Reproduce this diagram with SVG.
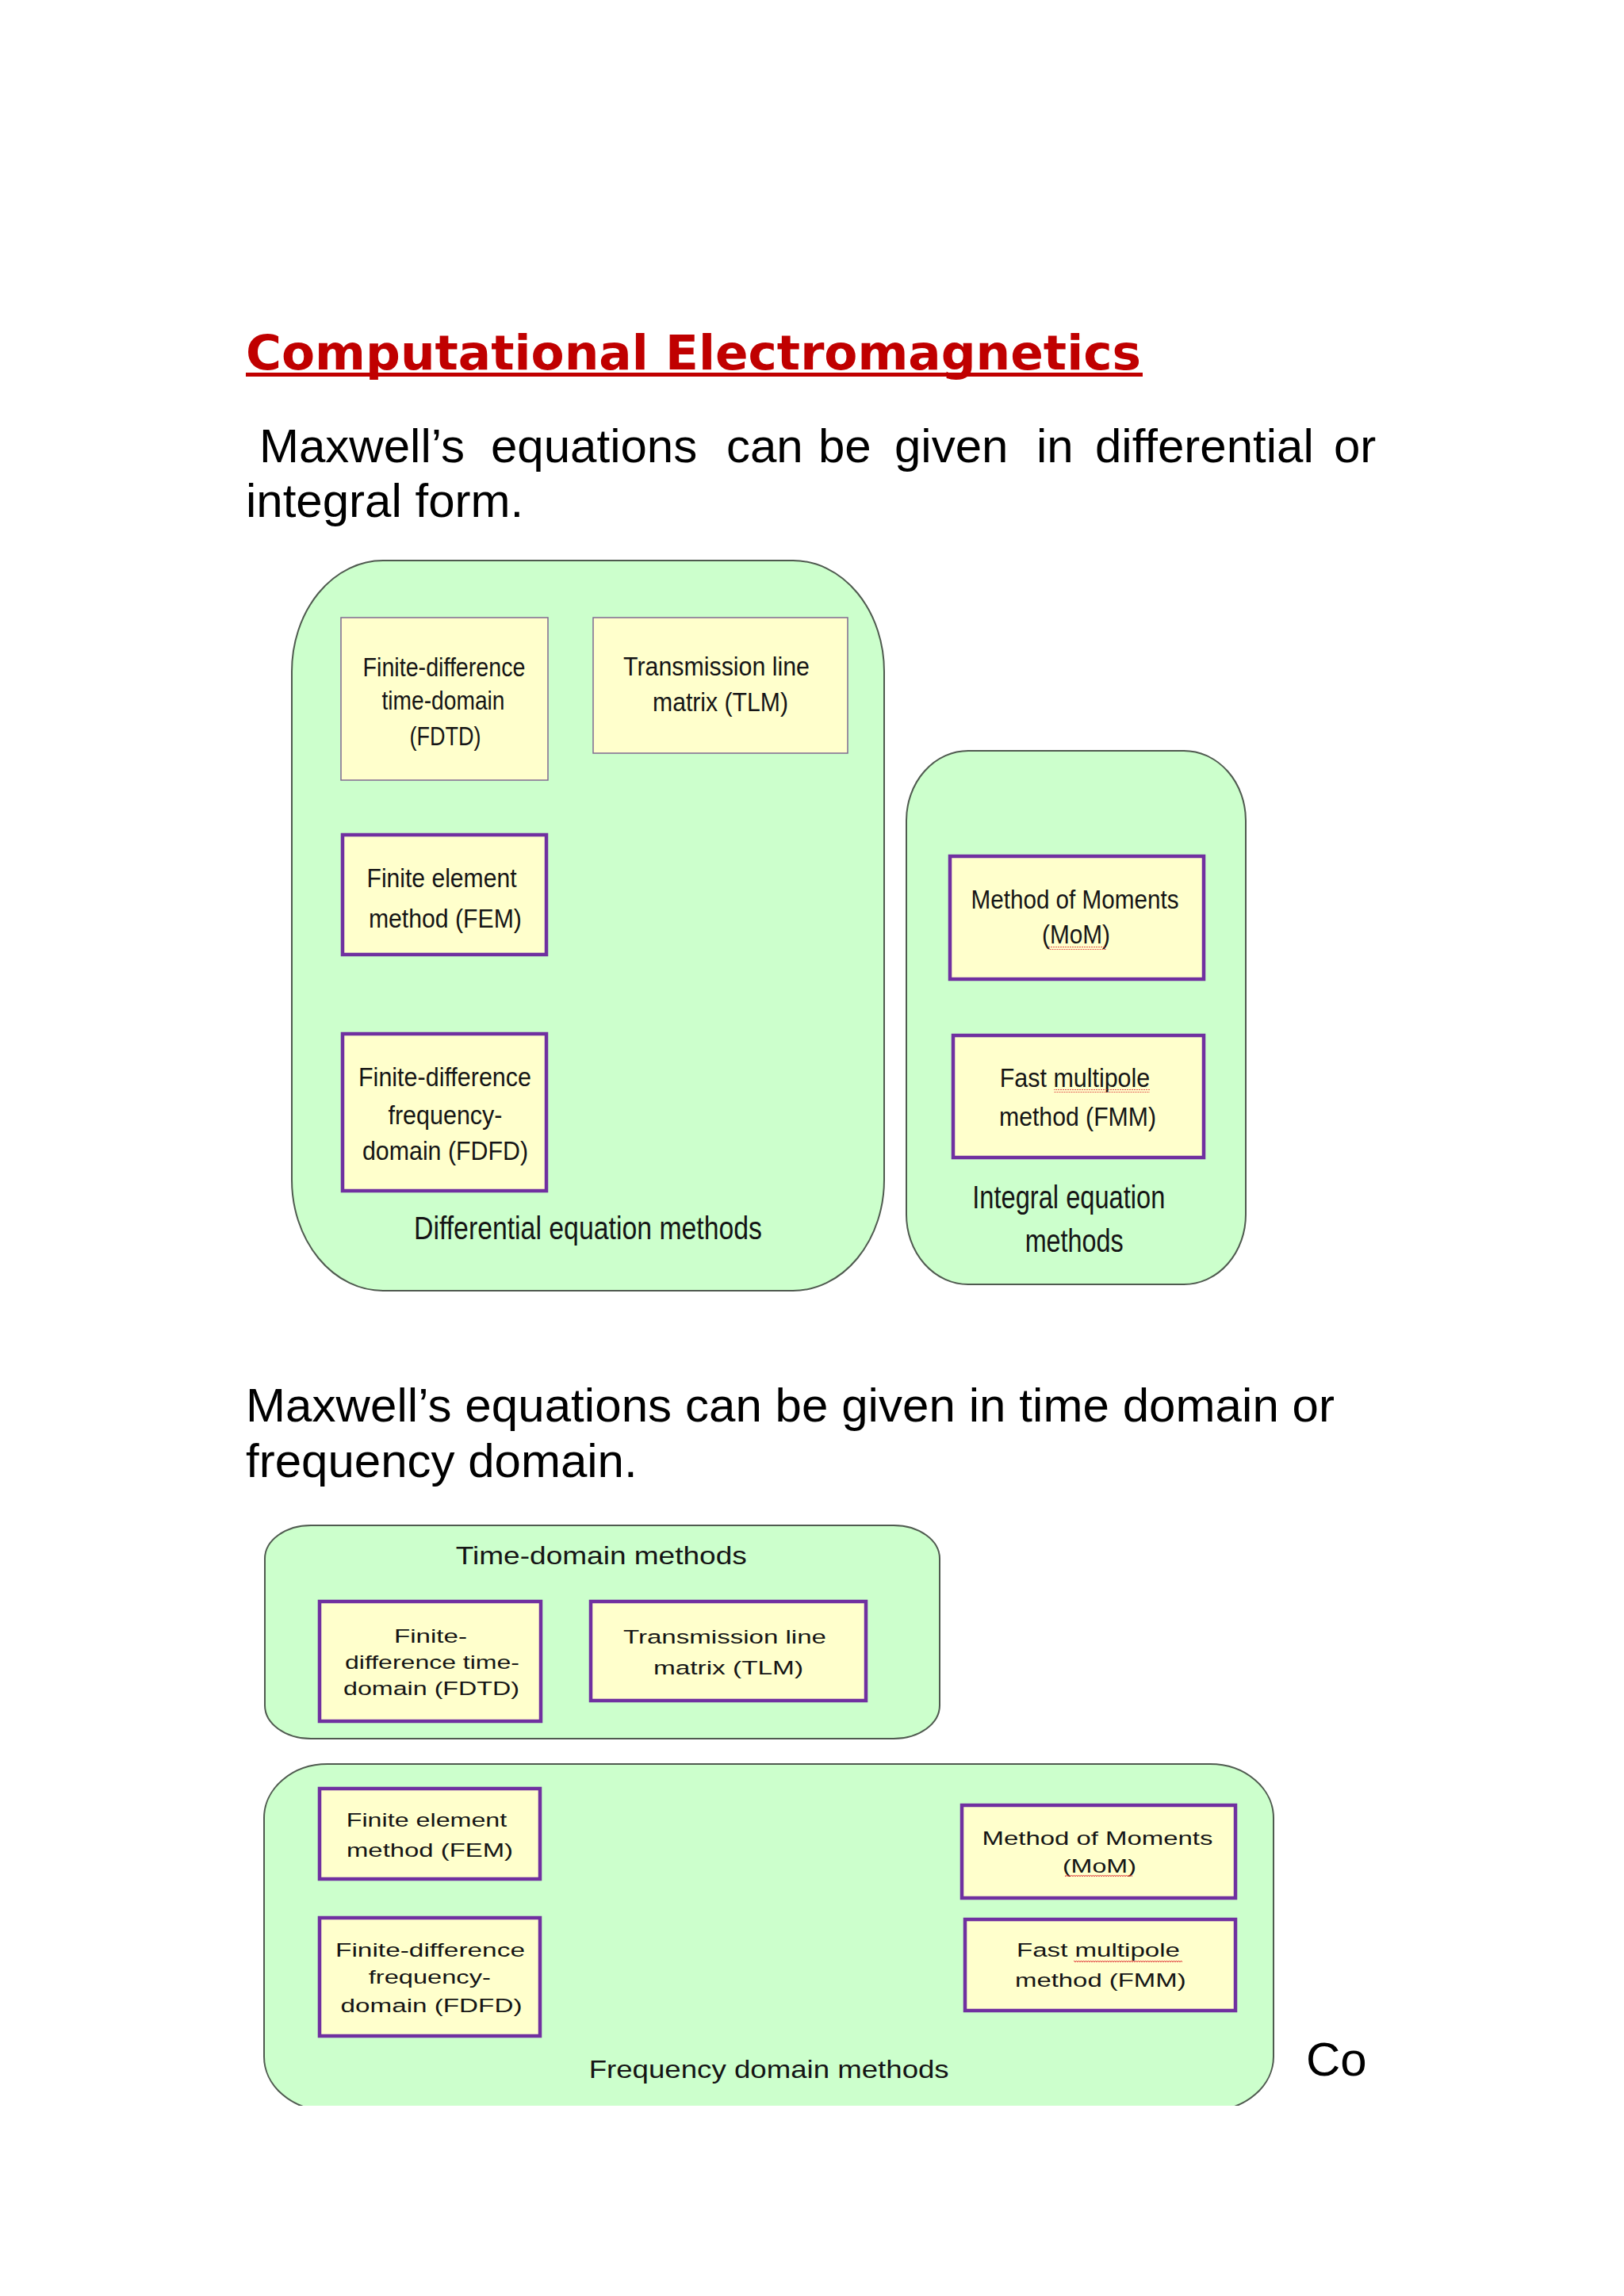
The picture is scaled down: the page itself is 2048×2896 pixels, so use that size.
<svg xmlns="http://www.w3.org/2000/svg" width="2048" height="2896" viewBox="0 0 2048 2896">
<style>
.body{font-family:"Liberation Sans",Arial,sans-serif;font-size:60px;fill:#000}
.title{font-family:"DejaVu Sans",Verdana,sans-serif;font-weight:bold;font-size:60px;fill:#c00000}
.cont{fill:#ccffcc;stroke:#4f5a4f;stroke-width:2}
.thin{fill:#ffffcc;stroke:#806a90;stroke-width:1.5}
.thick{fill:#ffffcc;stroke:#7030a0;stroke-width:4.5}
.t1{font-family:"Liberation Sans",Arial,sans-serif;font-size:34px;fill:#151515;text-anchor:middle}
.t2{font-family:"Liberation Sans",Arial,sans-serif;font-size:24.5px;fill:#151515;text-anchor:middle}
.lbl1{font-family:"Liberation Sans",Arial,sans-serif;font-size:40px;fill:#151515;text-anchor:middle}
.lbl2{font-family:"Liberation Sans",Arial,sans-serif;font-size:32px;fill:#151515;text-anchor:middle}
</style>
<defs>
<pattern id="sq" width="6" height="4" patternUnits="userSpaceOnUse">
<path d="M0,3 L1.5,1 L3,3 L4.5,1 L6,3" fill="none" stroke="#e03a3a" stroke-width="1"/>
</pattern>
<clipPath id="clipFreq"><rect x="300" y="2200" width="1400" height="456"/></clipPath>
</defs>
<rect width="2048" height="2896" fill="#ffffff"/>

<g id="title">
<text class="title" x="310" y="466" textLength="1129" lengthAdjust="spacingAndGlyphs">Computational Electromagnetics</text>
<rect x="310" y="470" width="1131" height="5" fill="#c00000"/>
</g>

<g id="para1" class="body">
<text x="327" y="583">Maxwell’s</text>
<text x="619" y="583">equations</text>
<text x="916" y="583">can</text>
<text x="1032" y="583">be</text>
<text x="1128" y="583">given</text>
<text x="1307" y="583">in</text>
<text x="1381" y="583">differential</text>
<text x="1682" y="583">or</text>
<text x="310" y="652">integral form.</text>
</g>

<g id="differential-methods">
<rect class="cont" x="368" y="707" width="747" height="921" rx="115" ry="140"/>
<text class="lbl1" x="741.5" y="1563" textLength="439" lengthAdjust="spacingAndGlyphs">Differential equation methods</text>
</g>
<g id="d1-fdtd">
<rect class="thin" x="430" y="779" width="261" height="205"/>
<text class="t1" x="560" y="853" textLength="205" lengthAdjust="spacingAndGlyphs">Finite-difference</text>
<text class="t1" x="559" y="895" textLength="155" lengthAdjust="spacingAndGlyphs">time-domain</text>
<text class="t1" x="561.5" y="940" textLength="90" lengthAdjust="spacingAndGlyphs">(FDTD)</text>
</g>
<g id="d1-tlm">
<rect class="thin" x="748" y="779" width="321" height="171"/>
<text class="t1" x="903.5" y="852" textLength="235" lengthAdjust="spacingAndGlyphs">Transmission line</text>
<text class="t1" x="908.5" y="897" textLength="171" lengthAdjust="spacingAndGlyphs">matrix (TLM)</text>
</g>
<g id="d1-fem">
<rect class="thick" x="432" y="1053" width="257" height="151"/>
<text class="t1" x="557" y="1119" textLength="189" lengthAdjust="spacingAndGlyphs">Finite element</text>
<text class="t1" x="561.4" y="1170" textLength="193" lengthAdjust="spacingAndGlyphs">method (FEM)</text>
</g>
<g id="d1-fdfd">
<rect class="thick" x="432" y="1304" width="257" height="198"/>
<text class="t1" x="561" y="1370" textLength="218" lengthAdjust="spacingAndGlyphs">Finite-difference</text>
<text class="t1" x="561.5" y="1418" textLength="144" lengthAdjust="spacingAndGlyphs">frequency-</text>
<text class="t1" x="561.5" y="1463" textLength="209" lengthAdjust="spacingAndGlyphs">domain (FDFD)</text>
</g>

<g id="integral-methods">
<rect class="cont" x="1143" y="947" width="428" height="673" rx="78" ry="88"/>
<text class="lbl1" x="1347.8" y="1524" font-size="38" textLength="243" lengthAdjust="spacingAndGlyphs">Integral equation</text>
<text class="lbl1" x="1354.7" y="1579" font-size="38" textLength="124" lengthAdjust="spacingAndGlyphs">methods</text>
</g>
<g id="d1-mom">
<rect class="thick" x="1198" y="1080" width="320" height="155"/>
<text class="t1" x="1355.5" y="1146" textLength="262" lengthAdjust="spacingAndGlyphs">Method of Moments</text>
<text class="t1" x="1357" y="1190" textLength="86" lengthAdjust="spacingAndGlyphs">(MoM)</text>
<rect x="1322" y="1194" width="73" height="4" fill="url(#sq)"/>
</g>
<g id="d1-fmm">
<rect class="thick" x="1202" y="1306" width="316" height="154"/>
<text class="t1" x="1355.5" y="1371" textLength="189.5" lengthAdjust="spacingAndGlyphs">Fast multipole</text>
<text class="t1" x="1359" y="1420" textLength="198" lengthAdjust="spacingAndGlyphs">method (FMM)</text>
<rect x="1329" y="1374" width="121" height="4" fill="url(#sq)"/>
</g>

<g id="para2" class="body">
<text x="310" y="1793" textLength="1373" lengthAdjust="spacing">Maxwell’s equations can be given in time domain or</text>
<text x="310" y="1863">frequency domain.</text>
</g>

<g id="time-domain-methods">
<rect class="cont" x="334" y="1924" width="851" height="269" rx="58" ry="42"/>
<text class="lbl2" x="758.3" y="1973" textLength="367" lengthAdjust="spacingAndGlyphs">Time-domain methods</text>
</g>
<g id="d2-fdtd">
<rect class="thick" x="403" y="2020" width="279" height="151"/>
<text class="t2" x="543" y="2072" textLength="92" lengthAdjust="spacingAndGlyphs">Finite-</text>
<text class="t2" x="545" y="2105" textLength="220" lengthAdjust="spacingAndGlyphs">difference time-</text>
<text class="t2" x="544" y="2138" textLength="222" lengthAdjust="spacingAndGlyphs">domain (FDTD)</text>
</g>
<g id="d2-tlm">
<rect class="thick" x="745" y="2020" width="347" height="125"/>
<text class="t2" x="914" y="2073" textLength="256" lengthAdjust="spacingAndGlyphs">Transmission line</text>
<text class="t2" x="918.5" y="2112" textLength="189" lengthAdjust="spacingAndGlyphs">matrix (TLM)</text>
</g>

<g id="frequency-domain-methods">
<rect class="cont" x="333" y="2225" width="1273" height="437" rx="80" ry="68" clip-path="url(#clipFreq)"/>
<text class="lbl2" x="969.7" y="2621" font-size="33" textLength="454" lengthAdjust="spacingAndGlyphs">Frequency domain methods</text>
</g>
<g id="d2-fem">
<rect class="thick" x="403" y="2256" width="278" height="114"/>
<text class="t2" x="538" y="2304" textLength="202.5" lengthAdjust="spacingAndGlyphs">Finite element</text>
<text class="t2" x="542" y="2342" textLength="210" lengthAdjust="spacingAndGlyphs">method (FEM)</text>
</g>
<g id="d2-fdfd">
<rect class="thick" x="403" y="2419" width="278" height="149"/>
<text class="t2" x="542.5" y="2468" textLength="239" lengthAdjust="spacingAndGlyphs">Finite-difference</text>
<text class="t2" x="541.8" y="2502" textLength="154" lengthAdjust="spacingAndGlyphs">frequency-</text>
<text class="t2" x="544" y="2538" textLength="229" lengthAdjust="spacingAndGlyphs">domain (FDFD)</text>
</g>
<g id="d2-mom">
<rect class="thick" x="1213" y="2277" width="345" height="117"/>
<text class="t2" x="1384" y="2327" textLength="291" lengthAdjust="spacingAndGlyphs">Method of Moments</text>
<text class="t2" x="1386.4" y="2362" textLength="93" lengthAdjust="spacingAndGlyphs">(MoM)</text>
<rect x="1343" y="2363" width="85" height="4" fill="url(#sq)"/>
</g>
<g id="d2-fmm">
<rect class="thick" x="1217" y="2421" width="341" height="115"/>
<text class="t2" x="1385" y="2468" textLength="206" lengthAdjust="spacingAndGlyphs">Fast multipole</text>
<text class="t2" x="1387.8" y="2506" textLength="215.6" lengthAdjust="spacingAndGlyphs">method (FMM)</text>
<rect x="1354" y="2471" width="137" height="4" fill="url(#sq)"/>
</g>

<g id="connectors"/>

<text class="body" x="1647" y="2618">Co</text>
</svg>
